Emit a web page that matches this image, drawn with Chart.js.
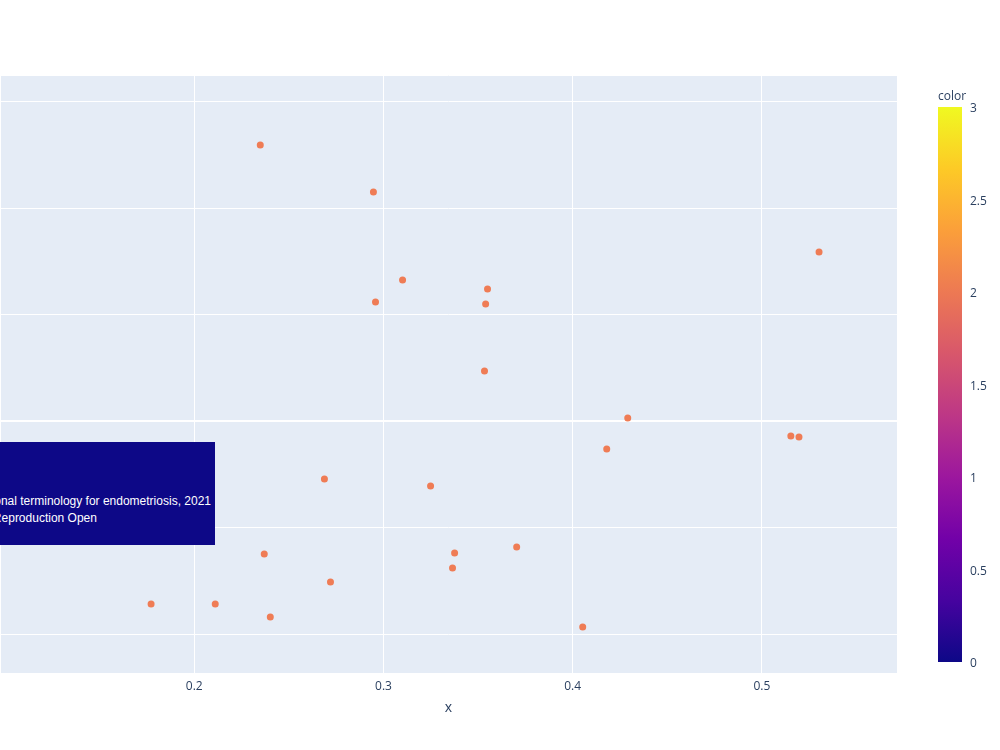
<!DOCTYPE html>
<html><head><meta charset="utf-8">
<script src="https://cdn.jsdelivr.net/npm/chart.js@4/dist/chart.umd.min.js"></script>
<style>
body{margin:0;width:1000px;height:750px;overflow:hidden;background:#fff;font-family:"Open Sans",Arial,sans-serif;position:relative}
#wrap{position:absolute;left:-100px;top:0;width:1100px;height:750px}
#cb{position:absolute;left:938px;top:107px;width:24px;height:555px;background:linear-gradient(to top,#0d0887,#46039f,#7201a8,#9c179e,#bd3786,#d8576b,#ed7953,#fb9f3a,#fdca26,#f0f921)}
.cbt{position:absolute;left:970px;font-size:12px;color:#2a3f5f;transform:translateY(-50%)}
#note{position:absolute;right:785px;top:442px;height:103px;background:#0d0887;color:#fff;font-size:12px;font-family:Arial,"Liberation Sans",sans-serif;white-space:nowrap;padding:0 4px}
</style></head><body>
<div id="wrap"><canvas id="c" width="1100" height="750"></canvas></div>
<div id="cb"></div>
<div class="cbt" style="left:938px;top:95px">color</div>
<div id="cbl"></div>
<div id="note"><div style="margin-top:52px">International terminology for endometriosis, 2021</div><div style="margin-top:3px">Human Reproduction Open</div></div>
<script>
const xVals=[0.2349,0.2947,0.5302,0.3101,0.3550,0.2958,0.3540,0.3534,0.4291,0.5153,0.5196,0.4180,0.2688,0.3249,0.3704,0.2370,0.3376,0.3365,0.2720,0.1772,0.2111,0.2402,0.4053];
const yVals=[2.592,2.150,1.587,1.324,1.239,1.117,1.099,0.469,0.028,-0.141,-0.150,-0.263,-0.545,-0.610,-1.183,-1.249,-1.239,-1.380,-1.512,-1.718,-1.718,-1.840,-1.934];
const colorTicks=[0,0.5,1,1.5,2,2.5,3];
const pointColor='#ef7c55';
const cbl=document.getElementById('cbl');
colorTicks.forEach(t=>{const d=document.createElement('div');d.className='cbt';d.style.top=(662-t/3*555)+'px';d.textContent=String(t);cbl.appendChild(d);});
const bg={id:'bg',beforeDraw(ch){const a=ch.chartArea,c=ch.ctx;c.save();c.fillStyle='#e5ecf6';c.fillRect(a.left,a.top,a.right-a.left,a.bottom-a.top);c.restore();}};
new Chart(document.getElementById('c'),{type:'scatter',
data:{datasets:[{data:xVals.map((x,i)=>({x,y:yVals[i]})),backgroundColor:pointColor,borderColor:pointColor,pointRadius:3.5,borderWidth:0}]},
options:{responsive:false,animation:false,layout:{padding:{left:100,right:103,top:75,bottom:30}},
plugins:{legend:{display:false},tooltip:{enabled:false}},
scales:{x:{type:'linear',min:0.09735,max:0.5714,border:{display:false},grid:{color:'#fff',lineWidth:1,drawTicks:false},
ticks:{stepSize:0.1,padding:6,color:'#2a3f5f',font:{size:12,family:'Open Sans'},callback:v=>Math.abs(v*10-Math.round(v*10))<1e-6?v.toFixed(1):''},
title:{display:true,text:'x',color:'#2a3f5f',font:{size:14,family:'Open Sans'},padding:{top:8}},afterFit(s){s.height=47;}},
y:{type:'linear',min:-2.366,max:3.249,border:{display:false},ticks:{display:false,stepSize:1},
grid:{drawTicks:false,color:'#fff',lineWidth:c=>c.tick&&c.tick.value===0?2:1},afterFit(s){s.width=0;}}}},
plugins:[bg]});
</script></body></html>
